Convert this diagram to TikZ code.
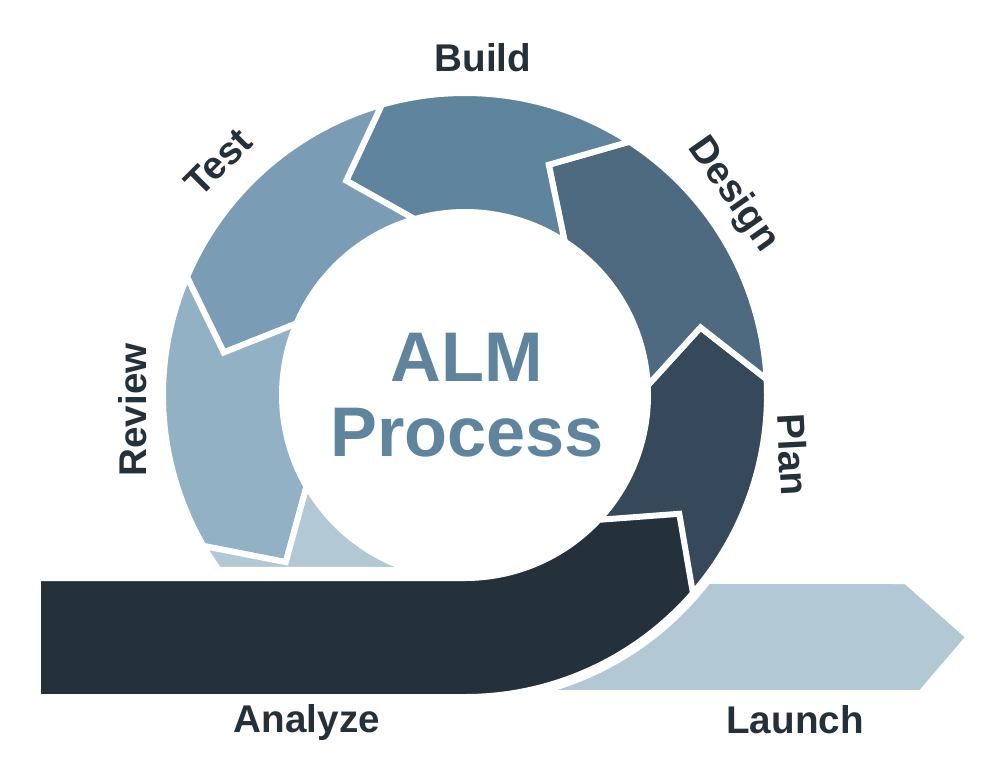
\documentclass[tikz,border=0pt]{standalone}
\usepackage{fontspec}
\setmainfont{Liberation Sans}
\definecolor{plancol}{HTML}{36495A}
\definecolor{designcol}{HTML}{4D6A80}
\definecolor{buildcol}{HTML}{5F849E}
\definecolor{testcol}{HTML}{7A9DB5}
\definecolor{reviewcol}{HTML}{93B1C4}
\definecolor{lightcol}{HTML}{B2C8D5}
\definecolor{bandcol}{HTML}{25313A}
% ring radii and chevron offset
\def\ri{183}
\def\rm{245}
\def\ro{302}
\newcommand{\ringseg}[3]{%
  \filldraw[piece,fill=#3] (-#1:\ri) -- (-#1-13:\rm) -- (-#1:\ro)
    arc[start angle=-#1,end angle=-#2,radius=\ro]
    -- (-#2-13:\rm) -- (-#2:\ri)
    arc[start angle=-#2,end angle=-#1,radius=\ri] -- cycle;}
\begin{document}
\begin{tikzpicture}
  [x=0.02cm,y=-0.02cm,
  piece/.style={draw=white,line width=0.12cm,line join=miter},
  steplabel/.style={font=\fontsize{22}{26}\selectfont\bfseries,text=bandcol},
  title/.style={font=\fontsize{40}{43}\selectfont\bfseries,text=buildcol,align=center}
  ]
  \useasboundingbox (-465,-395) rectangle (535,374);
  \ringseg{-60}{3}{plancol}
  \ringseg{3}{57}{designcol}
  \ringseg{57}{106}{buildcol}
  \ringseg{106}{157}{testcol}
  \ringseg{157}{210}{reviewcol}
  % light piece, cut off above the band
  \filldraw[piece,fill=lightcol] (-210:\ri) -- (-223:\rm) -- (-210:\ro)
    arc[start angle=-210,end angle=-215.4,radius=\ro]
    -- (-53,175) arc[start angle=107,end angle=150,radius=\ri] -- cycle;
  % launch arrow
  \filldraw[piece,fill=lightcol] (37.4:306) -- (441,186) -- (504,242) -- (456,298)
    -- (76.9:306) arc[start angle=76.9,end angle=37.4,radius=306] -- cycle;
  % analyze band
  \filldraw[piece,fill=bandcol] (-427,183) -- (0,183)
    arc[start angle=90,end angle=43,radius=\ri] -- (29:\rm) -- (41:\ro)
    arc[start angle=41,end angle=90,radius=\ro] -- (-427,302) -- cycle;
  \node[title] (alm) at (2,0) {ALM\\Process};
  \node[steplabel] (build) at (18,-337) {Build};
  \node[steplabel,rotate=-55] (design) at (268,-200) {Design};
  \node[steplabel,rotate=45] (test) at (-247,-233) {Test};
  \node[steplabel,rotate=90] (review) at (-332,15) {Review};
  \node[steplabel,rotate=-87] (plan) at (328,60) {Plan};
  \node[steplabel] (analyze) at (-158,327) {Analyze};
  \node[steplabel] (launch) at (330,325) {Launch};
\end{tikzpicture}
\end{document}
